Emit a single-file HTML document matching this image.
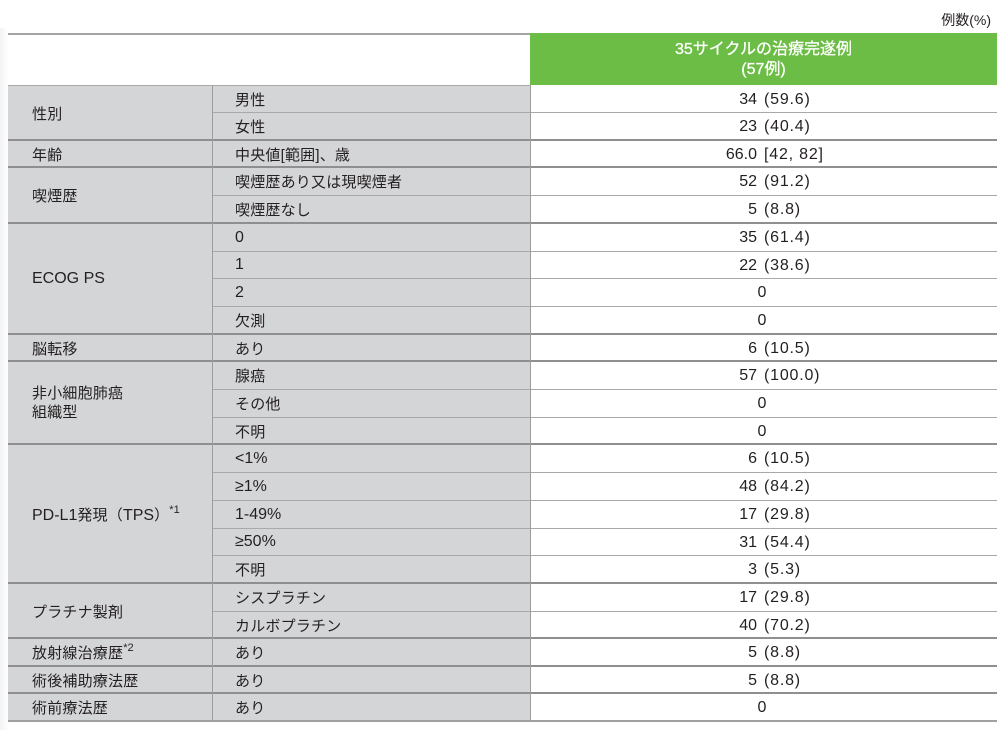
<!DOCTYPE html>
<html><head><meta charset="utf-8">
<style>
html,body{margin:0;padding:0;background:#fff;}
body{width:1000px;height:730px;position:relative;overflow:hidden;font-family:"Liberation Sans","Noto Sans CJK JP",sans-serif;color:#231f20;}
.abs{position:absolute;}
.shade{left:0;top:28px;width:8px;height:702px;background:linear-gradient(to right,#f3f3f3,#fff);}
.gray{left:8px;top:85px;width:522px;height:636px;background:#d4d5d7;}
.green{left:530px;top:33px;width:467px;height:52px;background:#6cbd45;color:#fff;text-align:center;font-size:16px;line-height:20px;-webkit-text-stroke:0.3px #fff;}
.hl{position:absolute;height:1px;background:#a9a9ab;}
.hk{position:absolute;height:2px;background:#8f8f91;}
.vl{position:absolute;width:1px;background:#9c9c9e;}
.c{position:absolute;display:flex;align-items:center;font-size:15px;letter-spacing:0.2px;padding-top:1px;box-sizing:border-box;}
.c1{left:32px;width:178px;}
.c2{left:235px;width:290px;}
.l{font-size:16px;letter-spacing:0;}
.row{position:absolute;left:530px;width:467px;font-size:16px;padding-top:1px;}
.n{position:absolute;left:0;width:227px;text-align:right;}
.p{position:absolute;left:234px;letter-spacing:0.8px;}
.z{position:absolute;left:0;width:464px;text-align:center;}
sup{font-size:11px;vertical-align:7px;line-height:0;letter-spacing:0;}
</style></head><body>
<div class="abs shade"></div>
<div class="abs" style="right:9px;top:11px;font-size:14px;line-height:18px;">例数<span style="font-size:14px">(%)</span></div>

<div class="hl" style="left:8px;top:33px;width:522px;height:2px;background:#a4a4a6;"></div>
<div class="abs green"><div style="padding-top:7px;">35サイクルの治療完遂例</div><div>(57例)</div></div>
<div class="abs gray"></div>

<!-- horizontal lines -->
<div class="hl" style="left:8px;top:85px;width:522px;"></div>
<div class="hl" style="left:212px;top:112px;width:785px;"></div>
<div class="hk" style="left:8px;top:139px;width:989px;"></div>
<div class="hk" style="left:8px;top:166px;width:989px;"></div>
<div class="hl" style="left:212px;top:195px;width:785px;"></div>
<div class="hk" style="left:8px;top:222px;width:989px;"></div>
<div class="hl" style="left:212px;top:251px;width:785px;"></div>
<div class="hl" style="left:212px;top:278px;width:785px;"></div>
<div class="hl" style="left:212px;top:306px;width:785px;"></div>
<div class="hk" style="left:8px;top:333px;width:989px;"></div>
<div class="hk" style="left:8px;top:360px;width:989px;"></div>
<div class="hl" style="left:212px;top:389px;width:785px;"></div>
<div class="hl" style="left:212px;top:417px;width:785px;"></div>
<div class="hk" style="left:8px;top:443px;width:989px;"></div>
<div class="hl" style="left:212px;top:472px;width:785px;"></div>
<div class="hl" style="left:212px;top:500px;width:785px;"></div>
<div class="hl" style="left:212px;top:528px;width:785px;"></div>
<div class="hl" style="left:212px;top:555px;width:785px;"></div>
<div class="hk" style="left:8px;top:582px;width:989px;"></div>
<div class="hl" style="left:212px;top:611px;width:785px;"></div>
<div class="hk" style="left:8px;top:637px;width:989px;"></div>
<div class="hk" style="left:8px;top:665px;width:989px;"></div>
<div class="hk" style="left:8px;top:692px;width:989px;"></div>
<div class="hk" style="left:8px;top:720px;width:989px;background:#a0a0a2;"></div>

<!-- vertical lines -->
<div class="vl" style="left:212px;top:85px;height:636px;"></div>
<div class="vl" style="left:530px;top:85px;height:636px;"></div>

<!-- column 1 -->
<div class="c c1" style="top:85px;height:55px;">性別</div>
<div class="c c1" style="top:140px;height:27px;">年齢</div>
<div class="c c1" style="top:167px;height:56px;">喫煙歴</div>
<div class="c c1" style="top:223px;height:111px;"><span class="l">ECOG PS</span></div>
<div class="c c1" style="top:334px;height:27px;">脳転移</div>
<div class="c c1" style="top:361px;height:83px;line-height:19px;">非小細胞肺癌<br>組織型</div>
<div class="c c1" style="top:444px;height:139px;"><span><span class="l">PD-L1</span>発現（<span class="l">TPS</span>）<sup>*1</sup></span></div>
<div class="c c1" style="top:583px;height:55px;">プラチナ製剤</div>
<div class="c c1" style="top:638px;height:28px;"><span>放射線治療歴<sup>*2</sup></span></div>
<div class="c c1" style="top:666px;height:27px;">術後補助療法歴</div>
<div class="c c1" style="top:693px;height:28px;">術前療法歴</div>

<!-- column 2 -->
<div class="c c2" style="top:85px;height:27px;">男性</div>
<div class="c c2" style="top:112px;height:28px;">女性</div>
<div class="c c2" style="top:140px;height:27px;">中央値[範囲]、歳</div>
<div class="c c2" style="top:167px;height:28px;">喫煙歴あり又は現喫煙者</div>
<div class="c c2" style="top:195px;height:28px;">喫煙歴なし</div>
<div class="c c2" style="top:223px;height:28px;"><span class="l">0</span></div>
<div class="c c2" style="top:251px;height:27px;"><span class="l">1</span></div>
<div class="c c2" style="top:278px;height:28px;"><span class="l">2</span></div>
<div class="c c2" style="top:306px;height:28px;">欠測</div>
<div class="c c2" style="top:334px;height:27px;">あり</div>
<div class="c c2" style="top:361px;height:28px;">腺癌</div>
<div class="c c2" style="top:389px;height:28px;">その他</div>
<div class="c c2" style="top:417px;height:27px;">不明</div>
<div class="c c2" style="top:444px;height:28px;"><span class="l">&lt;1%</span></div>
<div class="c c2" style="top:472px;height:28px;"><span class="l">≥1%</span></div>
<div class="c c2" style="top:500px;height:28px;"><span class="l">1-49%</span></div>
<div class="c c2" style="top:528px;height:27px;"><span class="l">≥50%</span></div>
<div class="c c2" style="top:555px;height:28px;">不明</div>
<div class="c c2" style="top:583px;height:28px;">シスプラチン</div>
<div class="c c2" style="top:611px;height:27px;">カルボプラチン</div>
<div class="c c2" style="top:638px;height:28px;">あり</div>
<div class="c c2" style="top:666px;height:27px;">あり</div>
<div class="c c2" style="top:693px;height:28px;">あり</div>

<!-- column 3 -->
<div class="row" style="top:85px;height:27px;line-height:27px;"><span class="n">34</span><span class="p">(59.6)</span></div>
<div class="row" style="top:112px;height:28px;line-height:28px;"><span class="n">23</span><span class="p">(40.4)</span></div>
<div class="row" style="top:140px;height:27px;line-height:27px;"><span class="n">66.0</span><span class="p">[42, 82]</span></div>
<div class="row" style="top:167px;height:28px;line-height:28px;"><span class="n">52</span><span class="p">(91.2)</span></div>
<div class="row" style="top:195px;height:28px;line-height:28px;"><span class="n">5</span><span class="p">(8.8)</span></div>
<div class="row" style="top:223px;height:28px;line-height:28px;"><span class="n">35</span><span class="p">(61.4)</span></div>
<div class="row" style="top:251px;height:27px;line-height:27px;"><span class="n">22</span><span class="p">(38.6)</span></div>
<div class="row" style="top:278px;height:28px;line-height:28px;"><span class="z">0</span></div>
<div class="row" style="top:306px;height:28px;line-height:28px;"><span class="z">0</span></div>
<div class="row" style="top:334px;height:27px;line-height:27px;"><span class="n">6</span><span class="p">(10.5)</span></div>
<div class="row" style="top:361px;height:28px;line-height:28px;"><span class="n">57</span><span class="p">(100.0)</span></div>
<div class="row" style="top:389px;height:28px;line-height:28px;"><span class="z">0</span></div>
<div class="row" style="top:417px;height:27px;line-height:27px;"><span class="z">0</span></div>
<div class="row" style="top:444px;height:28px;line-height:28px;"><span class="n">6</span><span class="p">(10.5)</span></div>
<div class="row" style="top:472px;height:28px;line-height:28px;"><span class="n">48</span><span class="p">(84.2)</span></div>
<div class="row" style="top:500px;height:28px;line-height:28px;"><span class="n">17</span><span class="p">(29.8)</span></div>
<div class="row" style="top:528px;height:27px;line-height:27px;"><span class="n">31</span><span class="p">(54.4)</span></div>
<div class="row" style="top:555px;height:28px;line-height:28px;"><span class="n">3</span><span class="p">(5.3)</span></div>
<div class="row" style="top:583px;height:28px;line-height:28px;"><span class="n">17</span><span class="p">(29.8)</span></div>
<div class="row" style="top:611px;height:27px;line-height:27px;"><span class="n">40</span><span class="p">(70.2)</span></div>
<div class="row" style="top:638px;height:28px;line-height:28px;"><span class="n">5</span><span class="p">(8.8)</span></div>
<div class="row" style="top:666px;height:27px;line-height:27px;"><span class="n">5</span><span class="p">(8.8)</span></div>
<div class="row" style="top:693px;height:28px;line-height:28px;"><span class="z">0</span></div>
</body></html>
